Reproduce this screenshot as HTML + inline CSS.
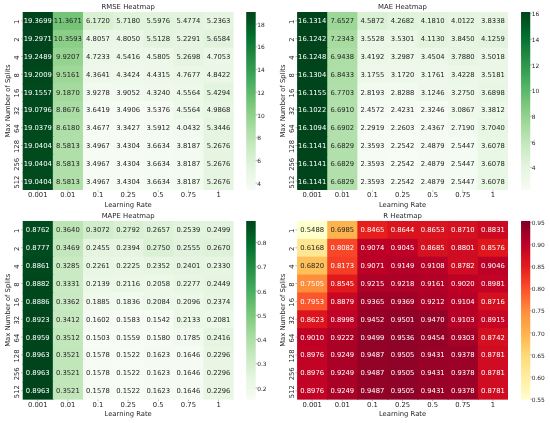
<!DOCTYPE html>
<html lang="en">
<head>
<meta charset="utf-8">
<title>Heatmaps</title>
<style>
html,body{margin:0;padding:0;background:#ffffff;}
body{width:550px;height:423px;overflow:hidden;}
svg{display:block;filter:blur(0.42px);}
text{font-family:"DejaVu Sans", "Liberation Sans", sans-serif;font-size:6.8px;fill:#262626;}
.a{text-anchor:middle;}
.w{fill:#ffffff;}
.t{text-anchor:middle;font-size:6.9px;}
.x{text-anchor:middle;}
.l{text-anchor:middle;}
.y{text-anchor:middle;}
.c{text-anchor:start;font-size:5.9px;}
.tk{stroke:#262626;stroke-width:0.4;stroke-opacity:0.8;}
</style>
</head>
<body>
<svg width="550" height="423" viewBox="0 0 550 423">
<rect x="0" y="0" width="550" height="423" fill="#ffffff"/>
<g class="panel p1">
<rect x="22.70" y="12.00" width="31.13" height="18.80" fill="#00441b"/>
<rect x="52.83" y="12.00" width="31.13" height="18.80" fill="#73c476"/>
<rect x="82.96" y="12.00" width="31.13" height="18.80" fill="#d9f0d3"/>
<rect x="113.09" y="12.00" width="31.13" height="18.80" fill="#e0f3db"/>
<rect x="143.21" y="12.00" width="31.13" height="18.80" fill="#e1f3dc"/>
<rect x="173.34" y="12.00" width="31.13" height="18.80" fill="#e3f4de"/>
<rect x="203.47" y="12.00" width="30.13" height="18.80" fill="#e6f5e1"/>
<rect x="22.70" y="29.80" width="31.13" height="18.80" fill="#00451c"/>
<rect x="52.83" y="29.80" width="31.13" height="18.80" fill="#8ace88"/>
<rect x="82.96" y="29.80" width="31.13" height="18.80" fill="#eaf7e6"/>
<rect x="113.09" y="29.80" width="31.13" height="18.80" fill="#eaf7e6"/>
<rect x="143.21" y="29.80" width="31.13" height="18.80" fill="#e3f4de"/>
<rect x="173.34" y="29.80" width="31.13" height="18.80" fill="#e6f5e1"/>
<rect x="203.47" y="29.80" width="30.13" height="18.80" fill="#e1f3dc"/>
<rect x="22.70" y="47.60" width="31.13" height="18.80" fill="#00451c"/>
<rect x="52.83" y="47.60" width="31.13" height="18.80" fill="#94d390"/>
<rect x="82.96" y="47.60" width="31.13" height="18.80" fill="#ebf7e7"/>
<rect x="113.09" y="47.60" width="31.13" height="18.80" fill="#ecf8e8"/>
<rect x="143.21" y="47.60" width="31.13" height="18.80" fill="#ecf8e8"/>
<rect x="173.34" y="47.60" width="31.13" height="18.80" fill="#e6f5e1"/>
<rect x="203.47" y="47.60" width="30.13" height="18.80" fill="#ebf7e7"/>
<rect x="22.70" y="65.40" width="31.13" height="18.80" fill="#00471c"/>
<rect x="52.83" y="65.40" width="31.13" height="18.80" fill="#9ed798"/>
<rect x="82.96" y="65.40" width="31.13" height="18.80" fill="#eef8ea"/>
<rect x="113.09" y="65.40" width="31.13" height="18.80" fill="#eff9eb"/>
<rect x="143.21" y="65.40" width="31.13" height="18.80" fill="#edf8ea"/>
<rect x="173.34" y="65.40" width="31.13" height="18.80" fill="#ebf7e7"/>
<rect x="203.47" y="65.40" width="30.13" height="18.80" fill="#eaf7e6"/>
<rect x="22.70" y="83.20" width="31.13" height="18.80" fill="#00481d"/>
<rect x="52.83" y="83.20" width="31.13" height="18.80" fill="#a4da9e"/>
<rect x="82.96" y="83.20" width="31.13" height="18.80" fill="#f2faef"/>
<rect x="113.09" y="83.20" width="31.13" height="18.80" fill="#f2faf0"/>
<rect x="143.21" y="83.20" width="31.13" height="18.80" fill="#eff9eb"/>
<rect x="173.34" y="83.20" width="31.13" height="18.80" fill="#ecf8e8"/>
<rect x="203.47" y="83.20" width="30.13" height="18.80" fill="#e4f5df"/>
<rect x="22.70" y="101.00" width="31.13" height="18.80" fill="#00491d"/>
<rect x="52.83" y="101.00" width="31.13" height="18.80" fill="#aadda4"/>
<rect x="82.96" y="101.00" width="31.13" height="18.80" fill="#f5fbf2"/>
<rect x="113.09" y="101.00" width="31.13" height="18.80" fill="#f6fcf4"/>
<rect x="143.21" y="101.00" width="31.13" height="18.80" fill="#f5fbf3"/>
<rect x="173.34" y="101.00" width="31.13" height="18.80" fill="#ecf8e8"/>
<rect x="203.47" y="101.00" width="30.13" height="18.80" fill="#e8f6e4"/>
<rect x="22.70" y="118.80" width="31.13" height="18.80" fill="#004a1e"/>
<rect x="52.83" y="118.80" width="31.13" height="18.80" fill="#afdfa8"/>
<rect x="82.96" y="118.80" width="31.13" height="18.80" fill="#f6fcf4"/>
<rect x="113.09" y="118.80" width="31.13" height="18.80" fill="#f7fcf5"/>
<rect x="143.21" y="118.80" width="31.13" height="18.80" fill="#f5fbf3"/>
<rect x="173.34" y="118.80" width="31.13" height="18.80" fill="#f1faee"/>
<rect x="203.47" y="118.80" width="30.13" height="18.80" fill="#e5f5e1"/>
<rect x="22.70" y="136.60" width="31.13" height="18.80" fill="#004a1e"/>
<rect x="52.83" y="136.60" width="31.13" height="18.80" fill="#b0dfaa"/>
<rect x="82.96" y="136.60" width="31.13" height="18.80" fill="#f6fcf4"/>
<rect x="113.09" y="136.60" width="31.13" height="18.80" fill="#f6fcf4"/>
<rect x="143.21" y="136.60" width="31.13" height="18.80" fill="#f4fbf2"/>
<rect x="173.34" y="136.60" width="31.13" height="18.80" fill="#f3faf0"/>
<rect x="203.47" y="136.60" width="30.13" height="18.80" fill="#e6f5e1"/>
<rect x="22.70" y="154.40" width="31.13" height="18.80" fill="#004a1e"/>
<rect x="52.83" y="154.40" width="31.13" height="18.80" fill="#b0dfaa"/>
<rect x="82.96" y="154.40" width="31.13" height="18.80" fill="#f6fcf4"/>
<rect x="113.09" y="154.40" width="31.13" height="18.80" fill="#f6fcf4"/>
<rect x="143.21" y="154.40" width="31.13" height="18.80" fill="#f4fbf2"/>
<rect x="173.34" y="154.40" width="31.13" height="18.80" fill="#f3faf0"/>
<rect x="203.47" y="154.40" width="30.13" height="18.80" fill="#e6f5e1"/>
<rect x="22.70" y="172.20" width="31.13" height="17.80" fill="#004a1e"/>
<rect x="52.83" y="172.20" width="31.13" height="17.80" fill="#b0dfaa"/>
<rect x="82.96" y="172.20" width="31.13" height="17.80" fill="#f6fcf4"/>
<rect x="113.09" y="172.20" width="31.13" height="17.80" fill="#f6fcf4"/>
<rect x="143.21" y="172.20" width="31.13" height="17.80" fill="#f4fbf2"/>
<rect x="173.34" y="172.20" width="31.13" height="17.80" fill="#f3faf0"/>
<rect x="203.47" y="172.20" width="30.13" height="17.80" fill="#e6f5e1"/>
<text x="37.76" y="23.35" class="a w">19.3699</text>
<text x="67.89" y="23.35" class="a">11.3671</text>
<text x="98.02" y="23.35" class="a">6.1720</text>
<text x="128.15" y="23.35" class="a">5.7180</text>
<text x="158.28" y="23.35" class="a">5.5976</text>
<text x="188.41" y="23.35" class="a">5.4774</text>
<text x="218.54" y="23.35" class="a">5.2363</text>
<text x="37.76" y="41.15" class="a w">19.2971</text>
<text x="67.89" y="41.15" class="a">10.3593</text>
<text x="98.02" y="41.15" class="a">4.8057</text>
<text x="128.15" y="41.15" class="a">4.8050</text>
<text x="158.28" y="41.15" class="a">5.5128</text>
<text x="188.41" y="41.15" class="a">5.2291</text>
<text x="218.54" y="41.15" class="a">5.6584</text>
<text x="37.76" y="58.95" class="a w">19.2489</text>
<text x="67.89" y="58.95" class="a">9.9207</text>
<text x="98.02" y="58.95" class="a">4.7233</text>
<text x="128.15" y="58.95" class="a">4.5416</text>
<text x="158.28" y="58.95" class="a">4.5805</text>
<text x="188.41" y="58.95" class="a">5.2698</text>
<text x="218.54" y="58.95" class="a">4.7053</text>
<text x="37.76" y="76.75" class="a w">19.2009</text>
<text x="67.89" y="76.75" class="a">9.5161</text>
<text x="98.02" y="76.75" class="a">4.3641</text>
<text x="128.15" y="76.75" class="a">4.3424</text>
<text x="158.28" y="76.75" class="a">4.4315</text>
<text x="188.41" y="76.75" class="a">4.7677</text>
<text x="218.54" y="76.75" class="a">4.8422</text>
<text x="37.76" y="94.55" class="a w">19.1557</text>
<text x="67.89" y="94.55" class="a">9.1870</text>
<text x="98.02" y="94.55" class="a">3.9278</text>
<text x="128.15" y="94.55" class="a">3.9052</text>
<text x="158.28" y="94.55" class="a">4.3240</text>
<text x="188.41" y="94.55" class="a">4.5564</text>
<text x="218.54" y="94.55" class="a">5.4294</text>
<text x="37.76" y="112.35" class="a w">19.0796</text>
<text x="67.89" y="112.35" class="a">8.8676</text>
<text x="98.02" y="112.35" class="a">3.6419</text>
<text x="128.15" y="112.35" class="a">3.4906</text>
<text x="158.28" y="112.35" class="a">3.5376</text>
<text x="188.41" y="112.35" class="a">4.5564</text>
<text x="218.54" y="112.35" class="a">4.9868</text>
<text x="37.76" y="130.15" class="a w">19.0379</text>
<text x="67.89" y="130.15" class="a">8.6180</text>
<text x="98.02" y="130.15" class="a">3.4677</text>
<text x="128.15" y="130.15" class="a">3.3427</text>
<text x="158.28" y="130.15" class="a">3.5912</text>
<text x="188.41" y="130.15" class="a">4.0432</text>
<text x="218.54" y="130.15" class="a">5.3446</text>
<text x="37.76" y="147.95" class="a w">19.0404</text>
<text x="67.89" y="147.95" class="a">8.5813</text>
<text x="98.02" y="147.95" class="a">3.4967</text>
<text x="128.15" y="147.95" class="a">3.4304</text>
<text x="158.28" y="147.95" class="a">3.6634</text>
<text x="188.41" y="147.95" class="a">3.8187</text>
<text x="218.54" y="147.95" class="a">5.2676</text>
<text x="37.76" y="165.75" class="a w">19.0404</text>
<text x="67.89" y="165.75" class="a">8.5813</text>
<text x="98.02" y="165.75" class="a">3.4967</text>
<text x="128.15" y="165.75" class="a">3.4304</text>
<text x="158.28" y="165.75" class="a">3.6634</text>
<text x="188.41" y="165.75" class="a">3.8187</text>
<text x="218.54" y="165.75" class="a">5.2676</text>
<text x="37.76" y="183.55" class="a w">19.0404</text>
<text x="67.89" y="183.55" class="a">8.5813</text>
<text x="98.02" y="183.55" class="a">3.4967</text>
<text x="128.15" y="183.55" class="a">3.4304</text>
<text x="158.28" y="183.55" class="a">3.6634</text>
<text x="188.41" y="183.55" class="a">3.8187</text>
<text x="218.54" y="183.55" class="a">5.2676</text>
<text x="128.15" y="8.70" class="t">RMSE Heatmap</text>
<line x1="37.76" x2="37.76" y1="190.00" y2="191.70" class="tk"/>
<text x="37.76" y="197.00" class="x">0.001</text>
<line x1="67.89" x2="67.89" y1="190.00" y2="191.70" class="tk"/>
<text x="67.89" y="197.00" class="x">0.01</text>
<line x1="98.02" x2="98.02" y1="190.00" y2="191.70" class="tk"/>
<text x="98.02" y="197.00" class="x">0.1</text>
<line x1="128.15" x2="128.15" y1="190.00" y2="191.70" class="tk"/>
<text x="128.15" y="197.00" class="x">0.25</text>
<line x1="158.28" x2="158.28" y1="190.00" y2="191.70" class="tk"/>
<text x="158.28" y="197.00" class="x">0.5</text>
<line x1="188.41" x2="188.41" y1="190.00" y2="191.70" class="tk"/>
<text x="188.41" y="197.00" class="x">0.75</text>
<line x1="218.54" x2="218.54" y1="190.00" y2="191.70" class="tk"/>
<text x="218.54" y="197.00" class="x">1</text>
<text x="128.15" y="206.50" class="l">Learning Rate</text>
<line x1="21.00" x2="22.70" y1="20.90" y2="20.90" class="tk"/>
<text transform="translate(19.40 21.90) rotate(-90)" class="y">1</text>
<line x1="21.00" x2="22.70" y1="38.70" y2="38.70" class="tk"/>
<text transform="translate(19.40 39.70) rotate(-90)" class="y">2</text>
<line x1="21.00" x2="22.70" y1="56.50" y2="56.50" class="tk"/>
<text transform="translate(19.40 57.50) rotate(-90)" class="y">4</text>
<line x1="21.00" x2="22.70" y1="74.30" y2="74.30" class="tk"/>
<text transform="translate(19.40 75.30) rotate(-90)" class="y">8</text>
<line x1="21.00" x2="22.70" y1="92.10" y2="92.10" class="tk"/>
<text transform="translate(19.40 93.10) rotate(-90)" class="y">16</text>
<line x1="21.00" x2="22.70" y1="109.90" y2="109.90" class="tk"/>
<text transform="translate(19.40 110.90) rotate(-90)" class="y">32</text>
<line x1="21.00" x2="22.70" y1="127.70" y2="127.70" class="tk"/>
<text transform="translate(19.40 128.70) rotate(-90)" class="y">64</text>
<line x1="21.00" x2="22.70" y1="145.50" y2="145.50" class="tk"/>
<text transform="translate(19.40 146.50) rotate(-90)" class="y">128</text>
<line x1="21.00" x2="22.70" y1="163.30" y2="163.30" class="tk"/>
<text transform="translate(19.40 164.30) rotate(-90)" class="y">256</text>
<line x1="21.00" x2="22.70" y1="181.10" y2="181.10" class="tk"/>
<text transform="translate(19.40 182.10) rotate(-90)" class="y">512</text>
<text transform="translate(10.10 101.00) rotate(-90)" class="l">Max Number of Splits</text>
<defs><linearGradient id="cb1" x1="0" y1="0" x2="0" y2="1"><stop offset="0.0000" stop-color="#00441b"/><stop offset="0.0312" stop-color="#004d1f"/><stop offset="0.0625" stop-color="#005723"/><stop offset="0.0938" stop-color="#006227"/><stop offset="0.1250" stop-color="#006c2c"/><stop offset="0.1562" stop-color="#087432"/><stop offset="0.1875" stop-color="#117b38"/><stop offset="0.2188" stop-color="#19833e"/><stop offset="0.2500" stop-color="#228a44"/><stop offset="0.2812" stop-color="#2a924a"/><stop offset="0.3125" stop-color="#319a50"/><stop offset="0.3438" stop-color="#39a257"/><stop offset="0.3750" stop-color="#40aa5d"/><stop offset="0.4062" stop-color="#4db163"/><stop offset="0.4375" stop-color="#5ab769"/><stop offset="0.4688" stop-color="#66bd6f"/><stop offset="0.5000" stop-color="#73c476"/><stop offset="0.5312" stop-color="#7fc97f"/><stop offset="0.5625" stop-color="#8ace88"/><stop offset="0.5938" stop-color="#95d391"/><stop offset="0.6250" stop-color="#a0d99b"/><stop offset="0.6562" stop-color="#aadda4"/><stop offset="0.6875" stop-color="#b4e1ad"/><stop offset="0.7188" stop-color="#bde5b6"/><stop offset="0.7500" stop-color="#c7e9c0"/><stop offset="0.7812" stop-color="#ceecc8"/><stop offset="0.8125" stop-color="#d6efd0"/><stop offset="0.8438" stop-color="#ddf2d8"/><stop offset="0.8750" stop-color="#e5f5e0"/><stop offset="0.9062" stop-color="#e9f7e5"/><stop offset="0.9375" stop-color="#eef8ea"/><stop offset="0.9688" stop-color="#f2faf0"/><stop offset="1.0000" stop-color="#f7fcf5"/></linearGradient></defs>
<rect x="246.20" y="12.00" width="9.50" height="178.00" fill="url(#cb1)"/>
<line x1="255.70" x2="257.40" y1="183.08" y2="183.08" class="tk"/>
<text x="257.15" y="185.68" class="c">4</text>
<line x1="255.70" x2="257.40" y1="160.37" y2="160.37" class="tk"/>
<text x="257.15" y="162.97" class="c">6</text>
<line x1="255.70" x2="257.40" y1="137.67" y2="137.67" class="tk"/>
<text x="257.15" y="140.27" class="c">8</text>
<line x1="255.70" x2="257.40" y1="114.96" y2="114.96" class="tk"/>
<text x="257.15" y="117.56" class="c">10</text>
<line x1="255.70" x2="257.40" y1="92.26" y2="92.26" class="tk"/>
<text x="257.15" y="94.86" class="c">12</text>
<line x1="255.70" x2="257.40" y1="69.55" y2="69.55" class="tk"/>
<text x="257.15" y="72.15" class="c">14</text>
<line x1="255.70" x2="257.40" y1="46.85" y2="46.85" class="tk"/>
<text x="257.15" y="49.45" class="c">16</text>
<line x1="255.70" x2="257.40" y1="24.15" y2="24.15" class="tk"/>
<text x="257.15" y="26.75" class="c">18</text>
</g>
<g class="panel p2">
<rect x="297.10" y="12.00" width="31.13" height="18.80" fill="#00441b"/>
<rect x="327.23" y="12.00" width="31.13" height="18.80" fill="#9cd797"/>
<rect x="357.36" y="12.00" width="31.13" height="18.80" fill="#dbf1d5"/>
<rect x="387.49" y="12.00" width="31.13" height="18.80" fill="#e0f3db"/>
<rect x="417.61" y="12.00" width="31.13" height="18.80" fill="#e2f4dd"/>
<rect x="447.74" y="12.00" width="31.13" height="18.80" fill="#e5f5e0"/>
<rect x="477.87" y="12.00" width="30.13" height="18.80" fill="#e7f6e2"/>
<rect x="297.10" y="29.80" width="31.13" height="18.80" fill="#00441b"/>
<rect x="327.23" y="29.80" width="31.13" height="18.80" fill="#a7dba0"/>
<rect x="357.36" y="29.80" width="31.13" height="18.80" fill="#eaf7e6"/>
<rect x="387.49" y="29.80" width="31.13" height="18.80" fill="#eaf7e6"/>
<rect x="417.61" y="29.80" width="31.13" height="18.80" fill="#e3f4de"/>
<rect x="447.74" y="29.80" width="31.13" height="18.80" fill="#e7f6e2"/>
<rect x="477.87" y="29.80" width="30.13" height="18.80" fill="#e3f4de"/>
<rect x="297.10" y="47.60" width="31.13" height="18.80" fill="#00441b"/>
<rect x="327.23" y="47.60" width="31.13" height="18.80" fill="#acdea6"/>
<rect x="357.36" y="47.60" width="31.13" height="18.80" fill="#ebf7e7"/>
<rect x="387.49" y="47.60" width="31.13" height="18.80" fill="#ecf8e8"/>
<rect x="417.61" y="47.60" width="31.13" height="18.80" fill="#ebf7e7"/>
<rect x="447.74" y="47.60" width="31.13" height="18.80" fill="#e7f6e3"/>
<rect x="477.87" y="47.60" width="30.13" height="18.80" fill="#eaf7e6"/>
<rect x="297.10" y="65.40" width="31.13" height="18.80" fill="#00441b"/>
<rect x="327.23" y="65.40" width="31.13" height="18.80" fill="#afdfa8"/>
<rect x="357.36" y="65.40" width="31.13" height="18.80" fill="#eef8ea"/>
<rect x="387.49" y="65.40" width="31.13" height="18.80" fill="#eef8ea"/>
<rect x="417.61" y="65.40" width="31.13" height="18.80" fill="#edf8ea"/>
<rect x="447.74" y="65.40" width="31.13" height="18.80" fill="#ebf7e7"/>
<rect x="477.87" y="65.40" width="30.13" height="18.80" fill="#eaf7e6"/>
<rect x="297.10" y="83.20" width="31.13" height="18.80" fill="#00441b"/>
<rect x="327.23" y="83.20" width="31.13" height="18.80" fill="#b0dfaa"/>
<rect x="357.36" y="83.20" width="31.13" height="18.80" fill="#f1faee"/>
<rect x="387.49" y="83.20" width="31.13" height="18.80" fill="#f1faee"/>
<rect x="417.61" y="83.20" width="31.13" height="18.80" fill="#eef8ea"/>
<rect x="447.74" y="83.20" width="31.13" height="18.80" fill="#edf8e9"/>
<rect x="477.87" y="83.20" width="30.13" height="18.80" fill="#e8f6e4"/>
<rect x="297.10" y="101.00" width="31.13" height="18.80" fill="#00441b"/>
<rect x="327.23" y="101.00" width="31.13" height="18.80" fill="#b2e0ac"/>
<rect x="357.36" y="101.00" width="31.13" height="18.80" fill="#f5fbf3"/>
<rect x="387.49" y="101.00" width="31.13" height="18.80" fill="#f5fbf3"/>
<rect x="417.61" y="101.00" width="31.13" height="18.80" fill="#f6fcf4"/>
<rect x="447.74" y="101.00" width="31.13" height="18.80" fill="#eff9eb"/>
<rect x="477.87" y="101.00" width="30.13" height="18.80" fill="#ecf8e8"/>
<rect x="297.10" y="118.80" width="31.13" height="18.80" fill="#00441b"/>
<rect x="327.23" y="118.80" width="31.13" height="18.80" fill="#b2e0ac"/>
<rect x="357.36" y="118.80" width="31.13" height="18.80" fill="#f7fcf5"/>
<rect x="387.49" y="118.80" width="31.13" height="18.80" fill="#f7fcf5"/>
<rect x="417.61" y="118.80" width="31.13" height="18.80" fill="#f5fbf3"/>
<rect x="447.74" y="118.80" width="31.13" height="18.80" fill="#f2faf0"/>
<rect x="477.87" y="118.80" width="30.13" height="18.80" fill="#e8f6e4"/>
<rect x="297.10" y="136.60" width="31.13" height="18.80" fill="#00441b"/>
<rect x="327.23" y="136.60" width="31.13" height="18.80" fill="#b2e0ac"/>
<rect x="357.36" y="136.60" width="31.13" height="18.80" fill="#f6fcf4"/>
<rect x="387.49" y="136.60" width="31.13" height="18.80" fill="#f7fcf5"/>
<rect x="417.61" y="136.60" width="31.13" height="18.80" fill="#f5fbf2"/>
<rect x="447.74" y="136.60" width="31.13" height="18.80" fill="#f4fbf2"/>
<rect x="477.87" y="136.60" width="30.13" height="18.80" fill="#e9f7e5"/>
<rect x="297.10" y="154.40" width="31.13" height="18.80" fill="#00441b"/>
<rect x="327.23" y="154.40" width="31.13" height="18.80" fill="#b2e0ac"/>
<rect x="357.36" y="154.40" width="31.13" height="18.80" fill="#f6fcf4"/>
<rect x="387.49" y="154.40" width="31.13" height="18.80" fill="#f7fcf5"/>
<rect x="417.61" y="154.40" width="31.13" height="18.80" fill="#f5fbf2"/>
<rect x="447.74" y="154.40" width="31.13" height="18.80" fill="#f4fbf2"/>
<rect x="477.87" y="154.40" width="30.13" height="18.80" fill="#e9f7e5"/>
<rect x="297.10" y="172.20" width="31.13" height="17.80" fill="#00441b"/>
<rect x="327.23" y="172.20" width="31.13" height="17.80" fill="#b2e0ac"/>
<rect x="357.36" y="172.20" width="31.13" height="17.80" fill="#f6fcf4"/>
<rect x="387.49" y="172.20" width="31.13" height="17.80" fill="#f7fcf5"/>
<rect x="417.61" y="172.20" width="31.13" height="17.80" fill="#f5fbf2"/>
<rect x="447.74" y="172.20" width="31.13" height="17.80" fill="#f4fbf2"/>
<rect x="477.87" y="172.20" width="30.13" height="17.80" fill="#e9f7e5"/>
<text x="312.16" y="23.35" class="a w">16.1314</text>
<text x="342.29" y="23.35" class="a">7.6527</text>
<text x="372.42" y="23.35" class="a">4.5872</text>
<text x="402.55" y="23.35" class="a">4.2682</text>
<text x="432.68" y="23.35" class="a">4.1810</text>
<text x="462.81" y="23.35" class="a">4.0122</text>
<text x="492.94" y="23.35" class="a">3.8338</text>
<text x="312.16" y="41.15" class="a w">16.1242</text>
<text x="342.29" y="41.15" class="a">7.2343</text>
<text x="372.42" y="41.15" class="a">3.5528</text>
<text x="402.55" y="41.15" class="a">3.5301</text>
<text x="432.68" y="41.15" class="a">4.1130</text>
<text x="462.81" y="41.15" class="a">3.8450</text>
<text x="492.94" y="41.15" class="a">4.1259</text>
<text x="312.16" y="58.95" class="a w">16.1248</text>
<text x="342.29" y="58.95" class="a">6.9438</text>
<text x="372.42" y="58.95" class="a">3.4192</text>
<text x="402.55" y="58.95" class="a">3.2987</text>
<text x="432.68" y="58.95" class="a">3.4504</text>
<text x="462.81" y="58.95" class="a">3.7880</text>
<text x="492.94" y="58.95" class="a">3.5018</text>
<text x="312.16" y="76.75" class="a w">16.1304</text>
<text x="342.29" y="76.75" class="a">6.8433</text>
<text x="372.42" y="76.75" class="a">3.1755</text>
<text x="402.55" y="76.75" class="a">3.1720</text>
<text x="432.68" y="76.75" class="a">3.1761</text>
<text x="462.81" y="76.75" class="a">3.4228</text>
<text x="492.94" y="76.75" class="a">3.5181</text>
<text x="312.16" y="94.55" class="a w">16.1155</text>
<text x="342.29" y="94.55" class="a">6.7703</text>
<text x="372.42" y="94.55" class="a">2.8193</text>
<text x="402.55" y="94.55" class="a">2.8288</text>
<text x="432.68" y="94.55" class="a">3.1246</text>
<text x="462.81" y="94.55" class="a">3.2750</text>
<text x="492.94" y="94.55" class="a">3.6898</text>
<text x="312.16" y="112.35" class="a w">16.1022</text>
<text x="342.29" y="112.35" class="a">6.6910</text>
<text x="372.42" y="112.35" class="a">2.4572</text>
<text x="402.55" y="112.35" class="a">2.4231</text>
<text x="432.68" y="112.35" class="a">2.3246</text>
<text x="462.81" y="112.35" class="a">3.0867</text>
<text x="492.94" y="112.35" class="a">3.3812</text>
<text x="312.16" y="130.15" class="a w">16.1094</text>
<text x="342.29" y="130.15" class="a">6.6902</text>
<text x="372.42" y="130.15" class="a">2.2919</text>
<text x="402.55" y="130.15" class="a">2.2603</text>
<text x="432.68" y="130.15" class="a">2.4367</text>
<text x="462.81" y="130.15" class="a">2.7190</text>
<text x="492.94" y="130.15" class="a">3.7040</text>
<text x="312.16" y="147.95" class="a w">16.1141</text>
<text x="342.29" y="147.95" class="a">6.6829</text>
<text x="372.42" y="147.95" class="a">2.3593</text>
<text x="402.55" y="147.95" class="a">2.2542</text>
<text x="432.68" y="147.95" class="a">2.4879</text>
<text x="462.81" y="147.95" class="a">2.5447</text>
<text x="492.94" y="147.95" class="a">3.6078</text>
<text x="312.16" y="165.75" class="a w">16.1141</text>
<text x="342.29" y="165.75" class="a">6.6829</text>
<text x="372.42" y="165.75" class="a">2.3593</text>
<text x="402.55" y="165.75" class="a">2.2542</text>
<text x="432.68" y="165.75" class="a">2.4879</text>
<text x="462.81" y="165.75" class="a">2.5447</text>
<text x="492.94" y="165.75" class="a">3.6078</text>
<text x="312.16" y="183.55" class="a w">16.1141</text>
<text x="342.29" y="183.55" class="a">6.6829</text>
<text x="372.42" y="183.55" class="a">2.3593</text>
<text x="402.55" y="183.55" class="a">2.2542</text>
<text x="432.68" y="183.55" class="a">2.4879</text>
<text x="462.81" y="183.55" class="a">2.5447</text>
<text x="492.94" y="183.55" class="a">3.6078</text>
<text x="402.55" y="8.70" class="t">MAE Heatmap</text>
<line x1="312.16" x2="312.16" y1="190.00" y2="191.70" class="tk"/>
<text x="312.16" y="197.00" class="x">0.001</text>
<line x1="342.29" x2="342.29" y1="190.00" y2="191.70" class="tk"/>
<text x="342.29" y="197.00" class="x">0.01</text>
<line x1="372.42" x2="372.42" y1="190.00" y2="191.70" class="tk"/>
<text x="372.42" y="197.00" class="x">0.1</text>
<line x1="402.55" x2="402.55" y1="190.00" y2="191.70" class="tk"/>
<text x="402.55" y="197.00" class="x">0.25</text>
<line x1="432.68" x2="432.68" y1="190.00" y2="191.70" class="tk"/>
<text x="432.68" y="197.00" class="x">0.5</text>
<line x1="462.81" x2="462.81" y1="190.00" y2="191.70" class="tk"/>
<text x="462.81" y="197.00" class="x">0.75</text>
<line x1="492.94" x2="492.94" y1="190.00" y2="191.70" class="tk"/>
<text x="492.94" y="197.00" class="x">1</text>
<text x="402.55" y="206.50" class="l">Learning Rate</text>
<line x1="295.40" x2="297.10" y1="20.90" y2="20.90" class="tk"/>
<text transform="translate(293.80 21.90) rotate(-90)" class="y">1</text>
<line x1="295.40" x2="297.10" y1="38.70" y2="38.70" class="tk"/>
<text transform="translate(293.80 39.70) rotate(-90)" class="y">2</text>
<line x1="295.40" x2="297.10" y1="56.50" y2="56.50" class="tk"/>
<text transform="translate(293.80 57.50) rotate(-90)" class="y">4</text>
<line x1="295.40" x2="297.10" y1="74.30" y2="74.30" class="tk"/>
<text transform="translate(293.80 75.30) rotate(-90)" class="y">8</text>
<line x1="295.40" x2="297.10" y1="92.10" y2="92.10" class="tk"/>
<text transform="translate(293.80 93.10) rotate(-90)" class="y">16</text>
<line x1="295.40" x2="297.10" y1="109.90" y2="109.90" class="tk"/>
<text transform="translate(293.80 110.90) rotate(-90)" class="y">32</text>
<line x1="295.40" x2="297.10" y1="127.70" y2="127.70" class="tk"/>
<text transform="translate(293.80 128.70) rotate(-90)" class="y">64</text>
<line x1="295.40" x2="297.10" y1="145.50" y2="145.50" class="tk"/>
<text transform="translate(293.80 146.50) rotate(-90)" class="y">128</text>
<line x1="295.40" x2="297.10" y1="163.30" y2="163.30" class="tk"/>
<text transform="translate(293.80 164.30) rotate(-90)" class="y">256</text>
<line x1="295.40" x2="297.10" y1="181.10" y2="181.10" class="tk"/>
<text transform="translate(293.80 182.10) rotate(-90)" class="y">512</text>
<text transform="translate(284.50 101.00) rotate(-90)" class="l">Max Number of Splits</text>
<defs><linearGradient id="cb2" x1="0" y1="0" x2="0" y2="1"><stop offset="0.0000" stop-color="#00441b"/><stop offset="0.0312" stop-color="#004d1f"/><stop offset="0.0625" stop-color="#005723"/><stop offset="0.0938" stop-color="#006227"/><stop offset="0.1250" stop-color="#006c2c"/><stop offset="0.1562" stop-color="#087432"/><stop offset="0.1875" stop-color="#117b38"/><stop offset="0.2188" stop-color="#19833e"/><stop offset="0.2500" stop-color="#228a44"/><stop offset="0.2812" stop-color="#2a924a"/><stop offset="0.3125" stop-color="#319a50"/><stop offset="0.3438" stop-color="#39a257"/><stop offset="0.3750" stop-color="#40aa5d"/><stop offset="0.4062" stop-color="#4db163"/><stop offset="0.4375" stop-color="#5ab769"/><stop offset="0.4688" stop-color="#66bd6f"/><stop offset="0.5000" stop-color="#73c476"/><stop offset="0.5312" stop-color="#7fc97f"/><stop offset="0.5625" stop-color="#8ace88"/><stop offset="0.5938" stop-color="#95d391"/><stop offset="0.6250" stop-color="#a0d99b"/><stop offset="0.6562" stop-color="#aadda4"/><stop offset="0.6875" stop-color="#b4e1ad"/><stop offset="0.7188" stop-color="#bde5b6"/><stop offset="0.7500" stop-color="#c7e9c0"/><stop offset="0.7812" stop-color="#ceecc8"/><stop offset="0.8125" stop-color="#d6efd0"/><stop offset="0.8438" stop-color="#ddf2d8"/><stop offset="0.8750" stop-color="#e5f5e0"/><stop offset="0.9062" stop-color="#e9f7e5"/><stop offset="0.9375" stop-color="#eef8ea"/><stop offset="0.9688" stop-color="#f2faf0"/><stop offset="1.0000" stop-color="#f7fcf5"/></linearGradient></defs>
<rect x="521.05" y="12.00" width="9.20" height="178.00" fill="url(#cb2)"/>
<line x1="530.25" x2="531.95" y1="167.61" y2="167.61" class="tk"/>
<text x="531.70" y="170.21" class="c">4</text>
<line x1="530.25" x2="531.95" y1="141.95" y2="141.95" class="tk"/>
<text x="531.70" y="144.55" class="c">6</text>
<line x1="530.25" x2="531.95" y1="116.30" y2="116.30" class="tk"/>
<text x="531.70" y="118.90" class="c">8</text>
<line x1="530.25" x2="531.95" y1="90.65" y2="90.65" class="tk"/>
<text x="531.70" y="93.25" class="c">10</text>
<line x1="530.25" x2="531.95" y1="64.99" y2="64.99" class="tk"/>
<text x="531.70" y="67.59" class="c">12</text>
<line x1="530.25" x2="531.95" y1="39.34" y2="39.34" class="tk"/>
<text x="531.70" y="41.94" class="c">14</text>
<line x1="530.25" x2="531.95" y1="13.69" y2="13.69" class="tk"/>
<text x="531.70" y="16.29" class="c">16</text>
</g>
<g class="panel p3">
<rect x="22.70" y="220.95" width="31.13" height="18.87" fill="#004c1e"/>
<rect x="52.83" y="220.95" width="31.13" height="18.87" fill="#bce4b5"/>
<rect x="82.96" y="220.95" width="31.13" height="18.87" fill="#d1edcb"/>
<rect x="113.09" y="220.95" width="31.13" height="18.87" fill="#daf0d4"/>
<rect x="143.21" y="220.95" width="31.13" height="18.87" fill="#def2d9"/>
<rect x="173.34" y="220.95" width="31.13" height="18.87" fill="#e2f4dd"/>
<rect x="203.47" y="220.95" width="30.13" height="18.87" fill="#e3f4de"/>
<rect x="22.70" y="238.82" width="31.13" height="18.87" fill="#004c1e"/>
<rect x="52.83" y="238.82" width="31.13" height="18.87" fill="#c3e7bc"/>
<rect x="82.96" y="238.82" width="31.13" height="18.87" fill="#e5f5e0"/>
<rect x="113.09" y="238.82" width="31.13" height="18.87" fill="#e6f5e1"/>
<rect x="143.21" y="238.82" width="31.13" height="18.87" fill="#dbf1d6"/>
<rect x="173.34" y="238.82" width="31.13" height="18.87" fill="#e1f3dc"/>
<rect x="203.47" y="238.82" width="30.13" height="18.87" fill="#ddf2d8"/>
<rect x="22.70" y="256.69" width="31.13" height="18.87" fill="#00481d"/>
<rect x="52.83" y="256.69" width="31.13" height="18.87" fill="#caeac3"/>
<rect x="82.96" y="256.69" width="31.13" height="18.87" fill="#e8f6e4"/>
<rect x="113.09" y="256.69" width="31.13" height="18.87" fill="#e9f7e5"/>
<rect x="143.21" y="256.69" width="31.13" height="18.87" fill="#e7f6e2"/>
<rect x="173.34" y="256.69" width="31.13" height="18.87" fill="#e6f5e1"/>
<rect x="203.47" y="256.69" width="30.13" height="18.87" fill="#e7f6e3"/>
<rect x="22.70" y="274.56" width="31.13" height="18.87" fill="#00471c"/>
<rect x="52.83" y="274.56" width="31.13" height="18.87" fill="#c9eac2"/>
<rect x="82.96" y="274.56" width="31.13" height="18.87" fill="#ebf7e7"/>
<rect x="113.09" y="274.56" width="31.13" height="18.87" fill="#ebf7e7"/>
<rect x="143.21" y="274.56" width="31.13" height="18.87" fill="#ecf8e8"/>
<rect x="173.34" y="274.56" width="31.13" height="18.87" fill="#e8f6e4"/>
<rect x="203.47" y="274.56" width="30.13" height="18.87" fill="#e5f5e0"/>
<rect x="22.70" y="292.43" width="31.13" height="18.87" fill="#00471c"/>
<rect x="52.83" y="292.43" width="31.13" height="18.87" fill="#c8e9c1"/>
<rect x="82.96" y="292.43" width="31.13" height="18.87" fill="#f0f9ec"/>
<rect x="113.09" y="292.43" width="31.13" height="18.87" fill="#f1faee"/>
<rect x="143.21" y="292.43" width="31.13" height="18.87" fill="#ecf8e8"/>
<rect x="173.34" y="292.43" width="31.13" height="18.87" fill="#ecf8e8"/>
<rect x="203.47" y="292.43" width="30.13" height="18.87" fill="#e7f6e2"/>
<rect x="22.70" y="310.30" width="31.13" height="18.87" fill="#00451c"/>
<rect x="52.83" y="310.30" width="31.13" height="18.87" fill="#c6e8bf"/>
<rect x="82.96" y="310.30" width="31.13" height="18.87" fill="#f5fbf3"/>
<rect x="113.09" y="310.30" width="31.13" height="18.87" fill="#f6fcf4"/>
<rect x="143.21" y="310.30" width="31.13" height="18.87" fill="#f6fcf4"/>
<rect x="173.34" y="310.30" width="31.13" height="18.87" fill="#ebf7e7"/>
<rect x="203.47" y="310.30" width="30.13" height="18.87" fill="#ecf8e8"/>
<rect x="22.70" y="328.17" width="31.13" height="18.87" fill="#00441b"/>
<rect x="52.83" y="328.17" width="31.13" height="18.87" fill="#c2e7bb"/>
<rect x="82.96" y="328.17" width="31.13" height="18.87" fill="#f7fcf5"/>
<rect x="113.09" y="328.17" width="31.13" height="18.87" fill="#f6fcf4"/>
<rect x="143.21" y="328.17" width="31.13" height="18.87" fill="#f6fcf4"/>
<rect x="173.34" y="328.17" width="31.13" height="18.87" fill="#f2faef"/>
<rect x="203.47" y="328.17" width="30.13" height="18.87" fill="#e5f5e1"/>
<rect x="22.70" y="346.04" width="31.13" height="18.87" fill="#00441b"/>
<rect x="52.83" y="346.04" width="31.13" height="18.87" fill="#c1e6ba"/>
<rect x="82.96" y="346.04" width="31.13" height="18.87" fill="#f6fcf4"/>
<rect x="113.09" y="346.04" width="31.13" height="18.87" fill="#f7fcf5"/>
<rect x="143.21" y="346.04" width="31.13" height="18.87" fill="#f5fbf2"/>
<rect x="173.34" y="346.04" width="31.13" height="18.87" fill="#f5fbf2"/>
<rect x="203.47" y="346.04" width="30.13" height="18.87" fill="#e8f6e3"/>
<rect x="22.70" y="363.91" width="31.13" height="18.87" fill="#00441b"/>
<rect x="52.83" y="363.91" width="31.13" height="18.87" fill="#c1e6ba"/>
<rect x="82.96" y="363.91" width="31.13" height="18.87" fill="#f6fcf4"/>
<rect x="113.09" y="363.91" width="31.13" height="18.87" fill="#f7fcf5"/>
<rect x="143.21" y="363.91" width="31.13" height="18.87" fill="#f5fbf2"/>
<rect x="173.34" y="363.91" width="31.13" height="18.87" fill="#f5fbf2"/>
<rect x="203.47" y="363.91" width="30.13" height="18.87" fill="#e8f6e3"/>
<rect x="22.70" y="381.78" width="31.13" height="17.87" fill="#00441b"/>
<rect x="52.83" y="381.78" width="31.13" height="17.87" fill="#c1e6ba"/>
<rect x="82.96" y="381.78" width="31.13" height="17.87" fill="#f6fcf4"/>
<rect x="113.09" y="381.78" width="31.13" height="17.87" fill="#f7fcf5"/>
<rect x="143.21" y="381.78" width="31.13" height="17.87" fill="#f5fbf2"/>
<rect x="173.34" y="381.78" width="31.13" height="17.87" fill="#f5fbf2"/>
<rect x="203.47" y="381.78" width="30.13" height="17.87" fill="#e8f6e3"/>
<text x="37.76" y="232.33" class="a w">0.8762</text>
<text x="67.89" y="232.33" class="a">0.3640</text>
<text x="98.02" y="232.33" class="a">0.3072</text>
<text x="128.15" y="232.33" class="a">0.2792</text>
<text x="158.28" y="232.33" class="a">0.2657</text>
<text x="188.41" y="232.33" class="a">0.2539</text>
<text x="218.54" y="232.33" class="a">0.2499</text>
<text x="37.76" y="250.20" class="a w">0.8777</text>
<text x="67.89" y="250.20" class="a">0.3469</text>
<text x="98.02" y="250.20" class="a">0.2455</text>
<text x="128.15" y="250.20" class="a">0.2394</text>
<text x="158.28" y="250.20" class="a">0.2750</text>
<text x="188.41" y="250.20" class="a">0.2555</text>
<text x="218.54" y="250.20" class="a">0.2670</text>
<text x="37.76" y="268.07" class="a w">0.8861</text>
<text x="67.89" y="268.07" class="a">0.3285</text>
<text x="98.02" y="268.07" class="a">0.2261</text>
<text x="128.15" y="268.07" class="a">0.2225</text>
<text x="158.28" y="268.07" class="a">0.2352</text>
<text x="188.41" y="268.07" class="a">0.2401</text>
<text x="218.54" y="268.07" class="a">0.2330</text>
<text x="37.76" y="285.94" class="a w">0.8882</text>
<text x="67.89" y="285.94" class="a">0.3331</text>
<text x="98.02" y="285.94" class="a">0.2139</text>
<text x="128.15" y="285.94" class="a">0.2116</text>
<text x="158.28" y="285.94" class="a">0.2058</text>
<text x="188.41" y="285.94" class="a">0.2277</text>
<text x="218.54" y="285.94" class="a">0.2449</text>
<text x="37.76" y="303.81" class="a w">0.8886</text>
<text x="67.89" y="303.81" class="a">0.3362</text>
<text x="98.02" y="303.81" class="a">0.1885</text>
<text x="128.15" y="303.81" class="a">0.1836</text>
<text x="158.28" y="303.81" class="a">0.2084</text>
<text x="188.41" y="303.81" class="a">0.2096</text>
<text x="218.54" y="303.81" class="a">0.2374</text>
<text x="37.76" y="321.68" class="a w">0.8923</text>
<text x="67.89" y="321.68" class="a">0.3412</text>
<text x="98.02" y="321.68" class="a">0.1602</text>
<text x="128.15" y="321.68" class="a">0.1583</text>
<text x="158.28" y="321.68" class="a">0.1542</text>
<text x="188.41" y="321.68" class="a">0.2133</text>
<text x="218.54" y="321.68" class="a">0.2081</text>
<text x="37.76" y="339.55" class="a w">0.8959</text>
<text x="67.89" y="339.55" class="a">0.3512</text>
<text x="98.02" y="339.55" class="a">0.1503</text>
<text x="128.15" y="339.55" class="a">0.1559</text>
<text x="158.28" y="339.55" class="a">0.1580</text>
<text x="188.41" y="339.55" class="a">0.1785</text>
<text x="218.54" y="339.55" class="a">0.2416</text>
<text x="37.76" y="357.42" class="a w">0.8963</text>
<text x="67.89" y="357.42" class="a">0.3521</text>
<text x="98.02" y="357.42" class="a">0.1578</text>
<text x="128.15" y="357.42" class="a">0.1522</text>
<text x="158.28" y="357.42" class="a">0.1623</text>
<text x="188.41" y="357.42" class="a">0.1646</text>
<text x="218.54" y="357.42" class="a">0.2296</text>
<text x="37.76" y="375.29" class="a w">0.8963</text>
<text x="67.89" y="375.29" class="a">0.3521</text>
<text x="98.02" y="375.29" class="a">0.1578</text>
<text x="128.15" y="375.29" class="a">0.1522</text>
<text x="158.28" y="375.29" class="a">0.1623</text>
<text x="188.41" y="375.29" class="a">0.1646</text>
<text x="218.54" y="375.29" class="a">0.2296</text>
<text x="37.76" y="393.16" class="a w">0.8963</text>
<text x="67.89" y="393.16" class="a">0.3521</text>
<text x="98.02" y="393.16" class="a">0.1578</text>
<text x="128.15" y="393.16" class="a">0.1522</text>
<text x="158.28" y="393.16" class="a">0.1623</text>
<text x="188.41" y="393.16" class="a">0.1646</text>
<text x="218.54" y="393.16" class="a">0.2296</text>
<text x="128.15" y="217.65" class="t">MAPE Heatmap</text>
<line x1="37.76" x2="37.76" y1="399.65" y2="401.35" class="tk"/>
<text x="37.76" y="406.65" class="x">0.001</text>
<line x1="67.89" x2="67.89" y1="399.65" y2="401.35" class="tk"/>
<text x="67.89" y="406.65" class="x">0.01</text>
<line x1="98.02" x2="98.02" y1="399.65" y2="401.35" class="tk"/>
<text x="98.02" y="406.65" class="x">0.1</text>
<line x1="128.15" x2="128.15" y1="399.65" y2="401.35" class="tk"/>
<text x="128.15" y="406.65" class="x">0.25</text>
<line x1="158.28" x2="158.28" y1="399.65" y2="401.35" class="tk"/>
<text x="158.28" y="406.65" class="x">0.5</text>
<line x1="188.41" x2="188.41" y1="399.65" y2="401.35" class="tk"/>
<text x="188.41" y="406.65" class="x">0.75</text>
<line x1="218.54" x2="218.54" y1="399.65" y2="401.35" class="tk"/>
<text x="218.54" y="406.65" class="x">1</text>
<text x="128.15" y="416.15" class="l">Learning Rate</text>
<line x1="21.00" x2="22.70" y1="229.88" y2="229.88" class="tk"/>
<text transform="translate(19.40 230.88) rotate(-90)" class="y">1</text>
<line x1="21.00" x2="22.70" y1="247.75" y2="247.75" class="tk"/>
<text transform="translate(19.40 248.75) rotate(-90)" class="y">2</text>
<line x1="21.00" x2="22.70" y1="265.62" y2="265.62" class="tk"/>
<text transform="translate(19.40 266.62) rotate(-90)" class="y">4</text>
<line x1="21.00" x2="22.70" y1="283.50" y2="283.50" class="tk"/>
<text transform="translate(19.40 284.50) rotate(-90)" class="y">8</text>
<line x1="21.00" x2="22.70" y1="301.37" y2="301.37" class="tk"/>
<text transform="translate(19.40 302.37) rotate(-90)" class="y">16</text>
<line x1="21.00" x2="22.70" y1="319.23" y2="319.23" class="tk"/>
<text transform="translate(19.40 320.23) rotate(-90)" class="y">32</text>
<line x1="21.00" x2="22.70" y1="337.10" y2="337.10" class="tk"/>
<text transform="translate(19.40 338.10) rotate(-90)" class="y">64</text>
<line x1="21.00" x2="22.70" y1="354.97" y2="354.97" class="tk"/>
<text transform="translate(19.40 355.97) rotate(-90)" class="y">128</text>
<line x1="21.00" x2="22.70" y1="372.84" y2="372.84" class="tk"/>
<text transform="translate(19.40 373.84) rotate(-90)" class="y">256</text>
<line x1="21.00" x2="22.70" y1="390.71" y2="390.71" class="tk"/>
<text transform="translate(19.40 391.71) rotate(-90)" class="y">512</text>
<text transform="translate(10.10 310.30) rotate(-90)" class="l">Max Number of Splits</text>
<defs><linearGradient id="cb3" x1="0" y1="0" x2="0" y2="1"><stop offset="0.0000" stop-color="#00441b"/><stop offset="0.0312" stop-color="#004d1f"/><stop offset="0.0625" stop-color="#005723"/><stop offset="0.0938" stop-color="#006227"/><stop offset="0.1250" stop-color="#006c2c"/><stop offset="0.1562" stop-color="#087432"/><stop offset="0.1875" stop-color="#117b38"/><stop offset="0.2188" stop-color="#19833e"/><stop offset="0.2500" stop-color="#228a44"/><stop offset="0.2812" stop-color="#2a924a"/><stop offset="0.3125" stop-color="#319a50"/><stop offset="0.3438" stop-color="#39a257"/><stop offset="0.3750" stop-color="#40aa5d"/><stop offset="0.4062" stop-color="#4db163"/><stop offset="0.4375" stop-color="#5ab769"/><stop offset="0.4688" stop-color="#66bd6f"/><stop offset="0.5000" stop-color="#73c476"/><stop offset="0.5312" stop-color="#7fc97f"/><stop offset="0.5625" stop-color="#8ace88"/><stop offset="0.5938" stop-color="#95d391"/><stop offset="0.6250" stop-color="#a0d99b"/><stop offset="0.6562" stop-color="#aadda4"/><stop offset="0.6875" stop-color="#b4e1ad"/><stop offset="0.7188" stop-color="#bde5b6"/><stop offset="0.7500" stop-color="#c7e9c0"/><stop offset="0.7812" stop-color="#ceecc8"/><stop offset="0.8125" stop-color="#d6efd0"/><stop offset="0.8438" stop-color="#ddf2d8"/><stop offset="0.8750" stop-color="#e5f5e0"/><stop offset="0.9062" stop-color="#e9f7e5"/><stop offset="0.9375" stop-color="#eef8ea"/><stop offset="0.9688" stop-color="#f2faf0"/><stop offset="1.0000" stop-color="#f7fcf5"/></linearGradient></defs>
<rect x="246.20" y="220.95" width="9.50" height="178.70" fill="url(#cb3)"/>
<line x1="255.70" x2="257.40" y1="388.01" y2="388.01" class="tk"/>
<text x="257.15" y="390.61" class="c">0.2</text>
<line x1="255.70" x2="257.40" y1="363.76" y2="363.76" class="tk"/>
<text x="257.15" y="366.36" class="c">0.3</text>
<line x1="255.70" x2="257.40" y1="339.52" y2="339.52" class="tk"/>
<text x="257.15" y="342.12" class="c">0.4</text>
<line x1="255.70" x2="257.40" y1="315.27" y2="315.27" class="tk"/>
<text x="257.15" y="317.87" class="c">0.5</text>
<line x1="255.70" x2="257.40" y1="291.02" y2="291.02" class="tk"/>
<text x="257.15" y="293.62" class="c">0.6</text>
<line x1="255.70" x2="257.40" y1="266.78" y2="266.78" class="tk"/>
<text x="257.15" y="269.38" class="c">0.7</text>
<line x1="255.70" x2="257.40" y1="242.53" y2="242.53" class="tk"/>
<text x="257.15" y="245.13" class="c">0.8</text>
</g>
<g class="panel p4">
<rect x="297.10" y="220.95" width="31.13" height="18.87" fill="#ffffcc"/>
<rect x="327.23" y="220.95" width="31.13" height="18.87" fill="#feb44e"/>
<rect x="357.36" y="220.95" width="31.13" height="18.87" fill="#e61f1d"/>
<rect x="387.49" y="220.95" width="31.13" height="18.87" fill="#da141e"/>
<rect x="417.61" y="220.95" width="31.13" height="18.87" fill="#d9131f"/>
<rect x="447.74" y="220.95" width="31.13" height="18.87" fill="#d51020"/>
<rect x="477.87" y="220.95" width="30.13" height="18.87" fill="#cb0a22"/>
<rect x="297.10" y="238.82" width="31.13" height="18.87" fill="#ffe691"/>
<rect x="327.23" y="238.82" width="31.13" height="18.87" fill="#f84628"/>
<rect x="357.36" y="238.82" width="31.13" height="18.87" fill="#bb0126"/>
<rect x="387.49" y="238.82" width="31.13" height="18.87" fill="#be0126"/>
<rect x="417.61" y="238.82" width="31.13" height="18.87" fill="#d6111f"/>
<rect x="447.74" y="238.82" width="31.13" height="18.87" fill="#ce0c22"/>
<rect x="477.87" y="238.82" width="30.13" height="18.87" fill="#df171d"/>
<rect x="297.10" y="256.69" width="31.13" height="18.87" fill="#fec05b"/>
<rect x="327.23" y="256.69" width="31.13" height="18.87" fill="#f43e26"/>
<rect x="357.36" y="256.69" width="31.13" height="18.87" fill="#bb0126"/>
<rect x="387.49" y="256.69" width="31.13" height="18.87" fill="#b30127"/>
<rect x="417.61" y="256.69" width="31.13" height="18.87" fill="#b80126"/>
<rect x="447.74" y="256.69" width="31.13" height="18.87" fill="#cf0c21"/>
<rect x="477.87" y="256.69" width="30.13" height="18.87" fill="#bc0126"/>
<rect x="297.10" y="274.56" width="31.13" height="18.87" fill="#fd8e3c"/>
<rect x="327.23" y="274.56" width="31.13" height="18.87" fill="#e1191d"/>
<rect x="357.36" y="274.56" width="31.13" height="18.87" fill="#ad0127"/>
<rect x="387.49" y="274.56" width="31.13" height="18.87" fill="#ad0127"/>
<rect x="417.61" y="274.56" width="31.13" height="18.87" fill="#b20127"/>
<rect x="447.74" y="274.56" width="31.13" height="18.87" fill="#bf0126"/>
<rect x="477.87" y="274.56" width="30.13" height="18.87" fill="#c20325"/>
<rect x="297.10" y="292.43" width="31.13" height="18.87" fill="#fc572c"/>
<rect x="327.23" y="292.43" width="31.13" height="18.87" fill="#c80723"/>
<rect x="357.36" y="292.43" width="31.13" height="18.87" fill="#9e0227"/>
<rect x="387.49" y="292.43" width="31.13" height="18.87" fill="#9e0227"/>
<rect x="417.61" y="292.43" width="31.13" height="18.87" fill="#ad0127"/>
<rect x="447.74" y="292.43" width="31.13" height="18.87" fill="#b80126"/>
<rect x="477.87" y="292.43" width="30.13" height="18.87" fill="#d41020"/>
<rect x="297.10" y="310.30" width="31.13" height="18.87" fill="#db141e"/>
<rect x="327.23" y="310.30" width="31.13" height="18.87" fill="#c10226"/>
<rect x="357.36" y="310.30" width="31.13" height="18.87" fill="#960227"/>
<rect x="387.49" y="310.30" width="31.13" height="18.87" fill="#910328"/>
<rect x="417.61" y="310.30" width="31.13" height="18.87" fill="#950328"/>
<rect x="447.74" y="310.30" width="31.13" height="18.87" fill="#b80126"/>
<rect x="477.87" y="310.30" width="30.13" height="18.87" fill="#c60624"/>
<rect x="297.10" y="328.17" width="31.13" height="18.87" fill="#c00126"/>
<rect x="327.23" y="328.17" width="31.13" height="18.87" fill="#ab0127"/>
<rect x="357.36" y="328.17" width="31.13" height="18.87" fill="#910328"/>
<rect x="387.49" y="328.17" width="31.13" height="18.87" fill="#8e0328"/>
<rect x="417.61" y="328.17" width="31.13" height="18.87" fill="#960227"/>
<rect x="447.74" y="328.17" width="31.13" height="18.87" fill="#a40227"/>
<rect x="477.87" y="328.17" width="30.13" height="18.87" fill="#d30f20"/>
<rect x="297.10" y="346.04" width="31.13" height="18.87" fill="#c20325"/>
<rect x="327.23" y="346.04" width="31.13" height="18.87" fill="#aa0227"/>
<rect x="357.36" y="346.04" width="31.13" height="18.87" fill="#930328"/>
<rect x="387.49" y="346.04" width="31.13" height="18.87" fill="#900328"/>
<rect x="417.61" y="346.04" width="31.13" height="18.87" fill="#980227"/>
<rect x="447.74" y="346.04" width="31.13" height="18.87" fill="#9c0227"/>
<rect x="477.87" y="346.04" width="30.13" height="18.87" fill="#cf0c21"/>
<rect x="297.10" y="363.91" width="31.13" height="18.87" fill="#c20325"/>
<rect x="327.23" y="363.91" width="31.13" height="18.87" fill="#aa0227"/>
<rect x="357.36" y="363.91" width="31.13" height="18.87" fill="#930328"/>
<rect x="387.49" y="363.91" width="31.13" height="18.87" fill="#900328"/>
<rect x="417.61" y="363.91" width="31.13" height="18.87" fill="#980227"/>
<rect x="447.74" y="363.91" width="31.13" height="18.87" fill="#9c0227"/>
<rect x="477.87" y="363.91" width="30.13" height="18.87" fill="#cf0c21"/>
<rect x="297.10" y="381.78" width="31.13" height="17.87" fill="#c20325"/>
<rect x="327.23" y="381.78" width="31.13" height="17.87" fill="#aa0227"/>
<rect x="357.36" y="381.78" width="31.13" height="17.87" fill="#930328"/>
<rect x="387.49" y="381.78" width="31.13" height="17.87" fill="#900328"/>
<rect x="417.61" y="381.78" width="31.13" height="17.87" fill="#980227"/>
<rect x="447.74" y="381.78" width="31.13" height="17.87" fill="#9c0227"/>
<rect x="477.87" y="381.78" width="30.13" height="17.87" fill="#cf0c21"/>
<text x="312.16" y="232.33" class="a">0.5488</text>
<text x="342.29" y="232.33" class="a">0.6985</text>
<text x="372.42" y="232.33" class="a w">0.8465</text>
<text x="402.55" y="232.33" class="a w">0.8644</text>
<text x="432.68" y="232.33" class="a w">0.8653</text>
<text x="462.81" y="232.33" class="a w">0.8710</text>
<text x="492.94" y="232.33" class="a w">0.8831</text>
<text x="312.16" y="250.20" class="a">0.6168</text>
<text x="342.29" y="250.20" class="a w">0.8082</text>
<text x="372.42" y="250.20" class="a w">0.9074</text>
<text x="402.55" y="250.20" class="a w">0.9045</text>
<text x="432.68" y="250.20" class="a w">0.8685</text>
<text x="462.81" y="250.20" class="a w">0.8801</text>
<text x="492.94" y="250.20" class="a w">0.8576</text>
<text x="312.16" y="268.07" class="a">0.6820</text>
<text x="342.29" y="268.07" class="a w">0.8173</text>
<text x="372.42" y="268.07" class="a w">0.9071</text>
<text x="402.55" y="268.07" class="a w">0.9149</text>
<text x="432.68" y="268.07" class="a w">0.9108</text>
<text x="462.81" y="268.07" class="a w">0.8782</text>
<text x="492.94" y="268.07" class="a w">0.9046</text>
<text x="312.16" y="285.94" class="a w">0.7505</text>
<text x="342.29" y="285.94" class="a w">0.8545</text>
<text x="372.42" y="285.94" class="a w">0.9215</text>
<text x="402.55" y="285.94" class="a w">0.9218</text>
<text x="432.68" y="285.94" class="a w">0.9161</text>
<text x="462.81" y="285.94" class="a w">0.9020</text>
<text x="492.94" y="285.94" class="a w">0.8981</text>
<text x="312.16" y="303.81" class="a w">0.7953</text>
<text x="342.29" y="303.81" class="a w">0.8879</text>
<text x="372.42" y="303.81" class="a w">0.9365</text>
<text x="402.55" y="303.81" class="a w">0.9369</text>
<text x="432.68" y="303.81" class="a w">0.9212</text>
<text x="462.81" y="303.81" class="a w">0.9104</text>
<text x="492.94" y="303.81" class="a w">0.8716</text>
<text x="312.16" y="321.68" class="a w">0.8623</text>
<text x="342.29" y="321.68" class="a w">0.8998</text>
<text x="372.42" y="321.68" class="a w">0.9452</text>
<text x="402.55" y="321.68" class="a w">0.9501</text>
<text x="432.68" y="321.68" class="a w">0.9470</text>
<text x="462.81" y="321.68" class="a w">0.9103</text>
<text x="492.94" y="321.68" class="a w">0.8915</text>
<text x="312.16" y="339.55" class="a w">0.9010</text>
<text x="342.29" y="339.55" class="a w">0.9222</text>
<text x="372.42" y="339.55" class="a w">0.9499</text>
<text x="402.55" y="339.55" class="a w">0.9536</text>
<text x="432.68" y="339.55" class="a w">0.9454</text>
<text x="462.81" y="339.55" class="a w">0.9303</text>
<text x="492.94" y="339.55" class="a w">0.8742</text>
<text x="312.16" y="357.42" class="a w">0.8976</text>
<text x="342.29" y="357.42" class="a w">0.9249</text>
<text x="372.42" y="357.42" class="a w">0.9487</text>
<text x="402.55" y="357.42" class="a w">0.9505</text>
<text x="432.68" y="357.42" class="a w">0.9431</text>
<text x="462.81" y="357.42" class="a w">0.9378</text>
<text x="492.94" y="357.42" class="a w">0.8781</text>
<text x="312.16" y="375.29" class="a w">0.8976</text>
<text x="342.29" y="375.29" class="a w">0.9249</text>
<text x="372.42" y="375.29" class="a w">0.9487</text>
<text x="402.55" y="375.29" class="a w">0.9505</text>
<text x="432.68" y="375.29" class="a w">0.9431</text>
<text x="462.81" y="375.29" class="a w">0.9378</text>
<text x="492.94" y="375.29" class="a w">0.8781</text>
<text x="312.16" y="393.16" class="a w">0.8976</text>
<text x="342.29" y="393.16" class="a w">0.9249</text>
<text x="372.42" y="393.16" class="a w">0.9487</text>
<text x="402.55" y="393.16" class="a w">0.9505</text>
<text x="432.68" y="393.16" class="a w">0.9431</text>
<text x="462.81" y="393.16" class="a w">0.9378</text>
<text x="492.94" y="393.16" class="a w">0.8781</text>
<text x="402.55" y="217.65" class="t">R Heatmap</text>
<line x1="312.16" x2="312.16" y1="399.65" y2="401.35" class="tk"/>
<text x="312.16" y="406.65" class="x">0.001</text>
<line x1="342.29" x2="342.29" y1="399.65" y2="401.35" class="tk"/>
<text x="342.29" y="406.65" class="x">0.01</text>
<line x1="372.42" x2="372.42" y1="399.65" y2="401.35" class="tk"/>
<text x="372.42" y="406.65" class="x">0.1</text>
<line x1="402.55" x2="402.55" y1="399.65" y2="401.35" class="tk"/>
<text x="402.55" y="406.65" class="x">0.25</text>
<line x1="432.68" x2="432.68" y1="399.65" y2="401.35" class="tk"/>
<text x="432.68" y="406.65" class="x">0.5</text>
<line x1="462.81" x2="462.81" y1="399.65" y2="401.35" class="tk"/>
<text x="462.81" y="406.65" class="x">0.75</text>
<line x1="492.94" x2="492.94" y1="399.65" y2="401.35" class="tk"/>
<text x="492.94" y="406.65" class="x">1</text>
<text x="402.55" y="416.15" class="l">Learning Rate</text>
<line x1="295.40" x2="297.10" y1="229.88" y2="229.88" class="tk"/>
<text transform="translate(293.80 230.88) rotate(-90)" class="y">1</text>
<line x1="295.40" x2="297.10" y1="247.75" y2="247.75" class="tk"/>
<text transform="translate(293.80 248.75) rotate(-90)" class="y">2</text>
<line x1="295.40" x2="297.10" y1="265.62" y2="265.62" class="tk"/>
<text transform="translate(293.80 266.62) rotate(-90)" class="y">4</text>
<line x1="295.40" x2="297.10" y1="283.50" y2="283.50" class="tk"/>
<text transform="translate(293.80 284.50) rotate(-90)" class="y">8</text>
<line x1="295.40" x2="297.10" y1="301.37" y2="301.37" class="tk"/>
<text transform="translate(293.80 302.37) rotate(-90)" class="y">16</text>
<line x1="295.40" x2="297.10" y1="319.23" y2="319.23" class="tk"/>
<text transform="translate(293.80 320.23) rotate(-90)" class="y">32</text>
<line x1="295.40" x2="297.10" y1="337.10" y2="337.10" class="tk"/>
<text transform="translate(293.80 338.10) rotate(-90)" class="y">64</text>
<line x1="295.40" x2="297.10" y1="354.97" y2="354.97" class="tk"/>
<text transform="translate(293.80 355.97) rotate(-90)" class="y">128</text>
<line x1="295.40" x2="297.10" y1="372.84" y2="372.84" class="tk"/>
<text transform="translate(293.80 373.84) rotate(-90)" class="y">256</text>
<line x1="295.40" x2="297.10" y1="390.71" y2="390.71" class="tk"/>
<text transform="translate(293.80 391.71) rotate(-90)" class="y">512</text>
<text transform="translate(284.50 310.30) rotate(-90)" class="l">Max Number of Splits</text>
<defs><linearGradient id="cb4" x1="0" y1="0" x2="0" y2="1"><stop offset="0.0000" stop-color="#800026"/><stop offset="0.0312" stop-color="#8d0026"/><stop offset="0.0625" stop-color="#9d0026"/><stop offset="0.0938" stop-color="#ac0026"/><stop offset="0.1250" stop-color="#bb0026"/><stop offset="0.1562" stop-color="#c50624"/><stop offset="0.1875" stop-color="#cf0c21"/><stop offset="0.2188" stop-color="#d9131f"/><stop offset="0.2500" stop-color="#e2191c"/><stop offset="0.2812" stop-color="#e9261f"/><stop offset="0.3125" stop-color="#ef3323"/><stop offset="0.3438" stop-color="#f54026"/><stop offset="0.3750" stop-color="#fc4d2a"/><stop offset="0.4062" stop-color="#fc5d2e"/><stop offset="0.4375" stop-color="#fc6c33"/><stop offset="0.4688" stop-color="#fd7c37"/><stop offset="0.5000" stop-color="#fd8c3c"/><stop offset="0.5312" stop-color="#fd9640"/><stop offset="0.5625" stop-color="#fd9f44"/><stop offset="0.5938" stop-color="#fea848"/><stop offset="0.6250" stop-color="#feb24c"/><stop offset="0.6562" stop-color="#febb56"/><stop offset="0.6875" stop-color="#fec561"/><stop offset="0.7188" stop-color="#fecf6b"/><stop offset="0.7500" stop-color="#fed976"/><stop offset="0.7812" stop-color="#fede80"/><stop offset="0.8125" stop-color="#fee38b"/><stop offset="0.8438" stop-color="#ffe895"/><stop offset="0.8750" stop-color="#ffeda0"/><stop offset="0.9062" stop-color="#fff1ab"/><stop offset="0.9375" stop-color="#fff6b6"/><stop offset="0.9688" stop-color="#fffac1"/><stop offset="1.0000" stop-color="#ffffcc"/></linearGradient></defs>
<rect x="521.05" y="220.95" width="9.20" height="178.70" fill="url(#cb4)"/>
<line x1="530.25" x2="531.95" y1="399.12" y2="399.12" class="tk"/>
<text x="531.70" y="401.72" class="c">0.55</text>
<line x1="530.25" x2="531.95" y1="377.05" y2="377.05" class="tk"/>
<text x="531.70" y="379.65" class="c">0.60</text>
<line x1="530.25" x2="531.95" y1="354.97" y2="354.97" class="tk"/>
<text x="531.70" y="357.57" class="c">0.65</text>
<line x1="530.25" x2="531.95" y1="332.90" y2="332.90" class="tk"/>
<text x="531.70" y="335.50" class="c">0.70</text>
<line x1="530.25" x2="531.95" y1="310.83" y2="310.83" class="tk"/>
<text x="531.70" y="313.43" class="c">0.75</text>
<line x1="530.25" x2="531.95" y1="288.76" y2="288.76" class="tk"/>
<text x="531.70" y="291.36" class="c">0.80</text>
<line x1="530.25" x2="531.95" y1="266.68" y2="266.68" class="tk"/>
<text x="531.70" y="269.28" class="c">0.85</text>
<line x1="530.25" x2="531.95" y1="244.61" y2="244.61" class="tk"/>
<text x="531.70" y="247.21" class="c">0.90</text>
<line x1="530.25" x2="531.95" y1="222.54" y2="222.54" class="tk"/>
<text x="531.70" y="225.14" class="c">0.95</text>
</g>
</svg>
</body>
</html>
